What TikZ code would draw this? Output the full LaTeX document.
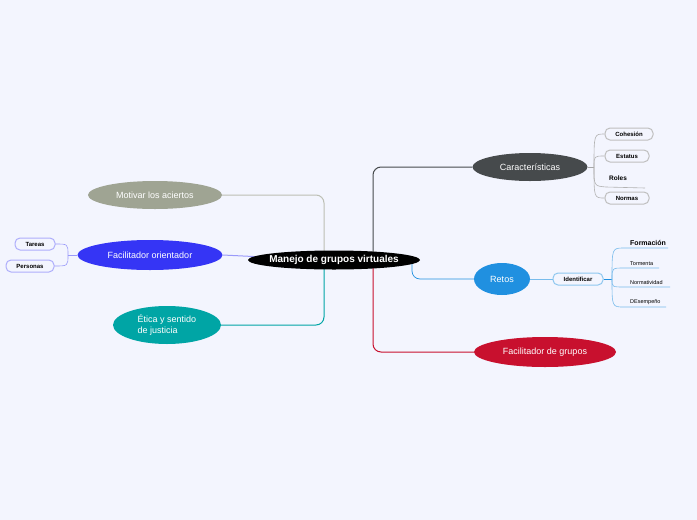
\documentclass[tikz,border=0pt]{standalone}
\usepackage{fontspec}
\setmainfont{Liberation Sans}
\usetikzlibrary{shapes.geometric}
\definecolor{bg}{HTML}{F3F5FE}
\definecolor{cdark}{HTML}{464A4C}
\definecolor{cblue}{HTML}{2090E0}
\definecolor{cred}{HTML}{C8102E}
\definecolor{cgray}{HTML}{9FA493}
\definecolor{cviol}{HTML}{3535F5}
\definecolor{cteal}{HTML}{00A5A5}
\begin{document}
\begin{tikzpicture}[x=1pt,y=-1pt,
 main/.style={ellipse,fill=#1,text=white,inner sep=0pt,font=\fontsize{9}{10.5}\selectfont,align=left},
 sub/.style={rounded corners=5pt,draw=#1,line width=1pt,fill=bg,minimum height=12pt,inner sep=2pt,font=\bfseries\fontsize{6}{7}\selectfont},
 lbl/.style={font=\fontsize{5.5}{6.5}\selectfont,inner sep=1pt,anchor=south west},
 conn/.style={line width=1pt,rounded corners=8pt}]
\fill[bg] (0,0) rectangle (697,520);
\useasboundingbox (0,0) rectangle (697,520);
\coordinate (cr) at (373,260);
\coordinate (cl) at (324,260);
\node[main=cdark,minimum width=115pt,minimum height=28pt] (car) at (530,167) {Características};
\node[main=cblue,minimum width=56pt,minimum height=32pt] (ret) at (502,279) {Retos};
\node[main=cred,minimum width=142pt,minimum height=30pt] (fg) at (545,352) {Facilitador de grupos};
\node[main=cgray,minimum width=134pt,minimum height=28pt] (mot) at (155,195) {Motivar los aciertos};
\node[main=cviol,minimum width=145pt,minimum height=30pt] (fo) at (150,255) {Facilitador orientador};
\node[main=cteal,minimum width=108pt,minimum height=38pt] (eti) at (167,325) {Ética y sentido\\de justicia};
\draw[conn,cdark] (cr) -- (373,167) -- (car.west);
\draw[conn,cred] (cr) -- (373,352) -- (fg.west);
\draw[conn,cblue,line width=0.7pt] (412,262) -- (412,279) -- (ret.west);
\draw[conn,cgray!70] (cl) -- (324,195) -- (mot.east);
\draw[conn,cteal] (cl) -- (324,325) -- (eti.east);
\draw[line width=1pt,cviol!50] (cl) -- (fo.east);
\node[ellipse,fill=black,text=white,minimum width=172pt,minimum height=19pt,inner xsep=-12pt,inner ysep=0pt,font=\bfseries\fontsize{10}{12}\selectfont] (c) at (334,260) {Manejo de grupos virtuales};
% Características subs
\node[sub=gray!50,minimum width=48pt] (coh) at (629,134) {Cohesión};
\node[sub=gray!50,minimum width=44pt] (est) at (627,156) {Estatus};
\node[font=\bfseries\fontsize{6.5}{7}\selectfont,inner sep=1pt,anchor=south west] (rol) at (608,182) {Roles};
\coordinate (rolend) at (645,188);
\node[sub=gray!50,minimum width=44pt] (nor) at (627,198) {Normas};
\coordinate (cj) at (594,167);
\draw[gray!70,line width=0.6pt] (car.east) -- (cj);
\draw[gray!60,line width=0.6pt] (cj) .. controls (594,134) .. (coh.west);
\draw[gray!60,line width=0.6pt] (cj) .. controls (594,156) .. (est.west);
\draw[gray!60,line width=0.6pt] (cj) .. controls (594,186) .. (606,187) -- (rolend);
\draw[gray!60,line width=0.6pt] (cj) .. controls (594,198) .. (nor.west);
% Retos subs
\node[sub=cblue!50,minimum width=50pt] (ide) at (578,279) {Identificar};
\draw[cblue!60,line width=0.6pt] (ret.east) -- (ide.west);
\coordinate (ij) at (612,279);
\draw[cblue,line width=0.8pt] (ide.east) -- (ij);
\node[lbl,font=\bfseries\fontsize{7}{8}\selectfont] (for) at (629,247) {Formación};
\node[lbl] (tor) at (629,267) {Tormenta};
\node[lbl] (nrm) at (629,286) {Normatividad};
\node[lbl] (des) at (629,306) {DEsempeño};
\foreach \n/\y/\e in {for/248/668,tor/268/659,nrm/287/670,des/307/666}{
 \draw[cblue!60,line width=0.6pt] (ij) .. controls (612,\y) .. (624,\y) -- (\e,\y);}
% Facilitador orientador subs
\node[sub=cviol!40,minimum width=40pt] (tar) at (35,244) {Tareas};
\node[sub=cviol!40,minimum width=48pt] (per) at (30,266) {Personas};
\coordinate (fj) at (68,255);
\draw[cviol!50,line width=0.6pt] (fo.west) -- (fj);
\draw[cviol!50,line width=0.6pt] (fj) .. controls (68,244) .. (tar.east);
\draw[cviol!50,line width=0.6pt] (fj) .. controls (68,266) .. (per.east);
\end{tikzpicture}
\end{document}
